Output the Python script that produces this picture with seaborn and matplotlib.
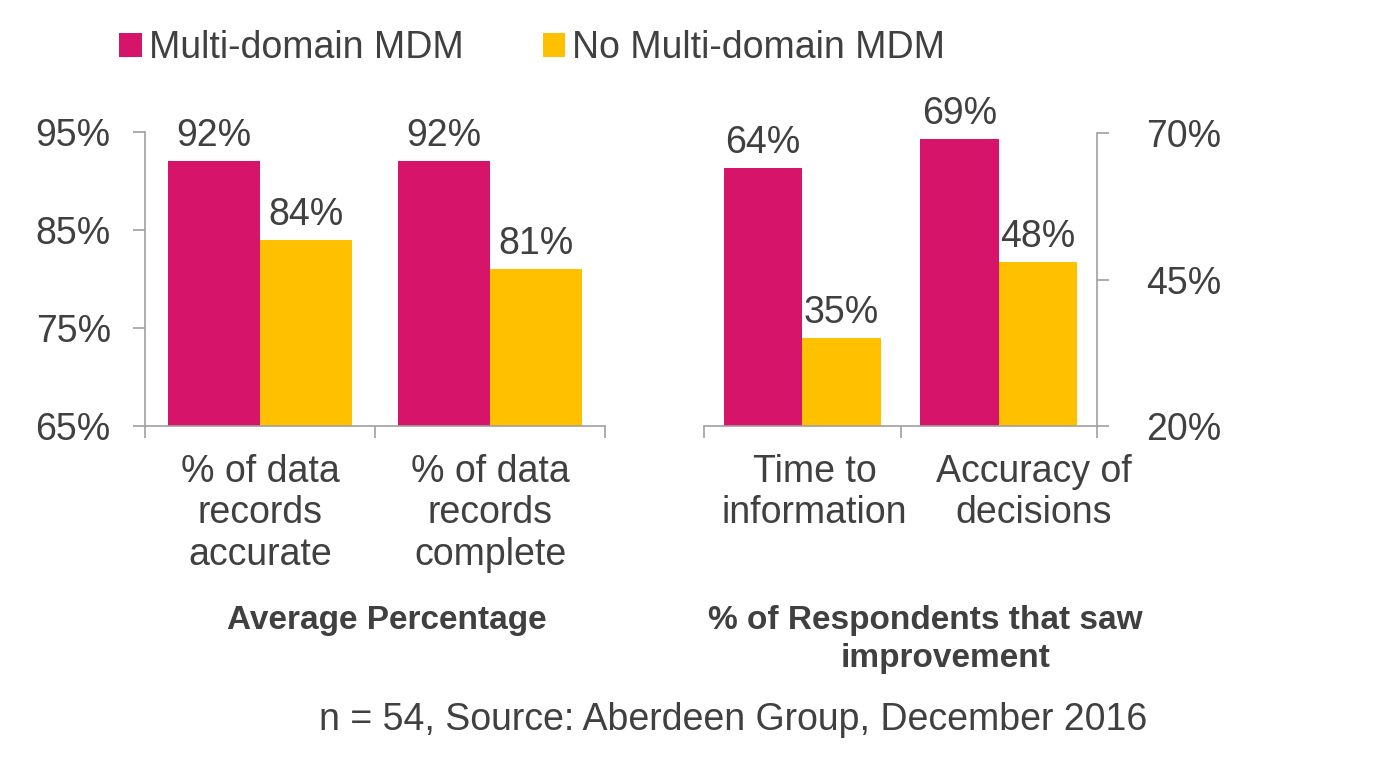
import matplotlib
matplotlib.use("Agg")
import matplotlib.pyplot as plt
import seaborn as sns
import pandas as pd

# ---- data ----
series = ["Multi-domain MDM", "No Multi-domain MDM"]
left_categories = ["% of data\nrecords\naccurate", "% of data\nrecords\ncomplete"]
left_multi = [92, 92]
left_no = [84, 81]
right_categories = ["Time to\ninformation", "Accuracy of\ndecisions"]
right_multi = [64, 69]
right_no = [35, 48]
left_ticks = [65, 75, 85, 95]
right_ticks = [20, 45, 70]
left_title = "Average Percentage"
right_title_lines = ["% of Respondents that saw", "improvement"]
source_text = "n = 54, Source: Aberdeen Group, December 2016"

colors = ["#D5146A", "#FFC000"]
text_color = "#404040"
axis_color = "#A0A0A0"

sns.set_theme(style="white")
plt.rcParams["font.family"] = ["Liberation Sans", "DejaVu Sans"]

W, H = 1393, 765
fig = plt.figure(figsize=(W / 100, H / 100), dpi=100)

def fx(px):
    return px / W

def fy(py):
    return 1 - py / H

ax_l = fig.add_axes([fx(145), fy(426), fx(605) - fx(145), fy(132) - fy(426)])
ax_r = fig.add_axes([fx(704), fy(426), fx(1097) - fx(704), fy(133) - fy(426)])

def make_df(cats, a, b):
    return pd.DataFrame({
        "cat": cats * 2,
        "series": [series[0]] * len(cats) + [series[1]] * len(cats),
        "value": list(a) + list(b),
    })

df_l = make_df(left_categories, left_multi, left_no)
df_r = make_df(right_categories, right_multi, right_no)

FS = 27
BFS = 24
tick_len = 12 * 72 / 100

for ax, df, cats, ticks, side, dxs in [
    (ax_l, df_l, left_categories, left_ticks, "left", [0, 0]),
    (ax_r, df_r, right_categories, right_ticks, "right", [9, 25]),
]:
    sns.barplot(data=df, x="cat", y="value", hue="series", hue_order=series,
                palette=colors, ax=ax, width=0.8, saturation=1, legend=True,
                errorbar=None, linewidth=0)
    ax.set_ylim(ticks[0], ticks[-1])
    ax.set_xlim(-0.5, len(cats) - 0.5)
    ax.set_yticks(ticks)
    ax.set_yticklabels([f"{t}%" for t in ticks])
    ax.set_xticks([-0.5 + i for i in range(len(cats) + 1)])
    ax.set_xticklabels([""] * (len(cats) + 1))
    ax.set_xlabel("")
    ax.set_ylabel("")
    for s in ["top", "left", "right", "bottom"]:
        ax.spines[s].set_visible(False)
    ax.spines["bottom"].set_visible(True)
    ax.spines[side].set_visible(True)
    for s in ["bottom", side]:
        ax.spines[s].set_color(axis_color)
        ax.spines[s].set_linewidth(1.2)
    if side == "right":
        ax.yaxis.tick_right()
        ax.tick_params(axis="y", pad=27)
    else:
        ax.tick_params(axis="y", pad=16)
    ax.tick_params(axis="both", direction="out", length=tick_len, width=1.2,
                   color=axis_color, labelsize=FS, labelcolor=text_color,
                   bottom=True, left=(side == "left"), right=(side == "right"))
    for c in ax.containers:
        ax.bar_label(c, labels=[f"{v:.0f}%" for v in c.datavalues],
                     fontsize=FS, color=text_color, padding=5)
    for i, cat in enumerate(cats):
        ax.annotate(cat, xy=(i, 0), xycoords=("data", "axes fraction"),
                    xytext=(dxs[i], -20), textcoords="offset points",
                    ha="center", va="top", fontsize=FS, color=text_color,
                    linespacing=1.2, multialignment="center")
    if ax.get_legend() is not None:
        handles, labels = ax.get_legend_handles_labels()
        ax.get_legend().remove()

fig.legend(handles, labels, loc="center left",
           bbox_to_anchor=(fx(119), fy(48)), frameon=False, fontsize=FS,
           ncol=2, handlelength=0.6, handleheight=0.6, handletextpad=0.2,
           columnspacing=2.1, borderpad=0, borderaxespad=0,
           labelcolor=text_color)

fig.text(fx(387), fy(621), left_title, ha="center", va="center",
         fontsize=BFS, fontweight="bold", color=text_color)
fig.text(fx(925), fy(620), right_title_lines[0], ha="center", va="center",
         fontsize=BFS, fontweight="bold", color=text_color)
fig.text(fx(946), fy(658), right_title_lines[1], ha="center", va="center",
         fontsize=BFS, fontweight="bold", color=text_color)
fig.text(fx(733), fy(720), source_text, ha="center", va="center",
         fontsize=FS, color=text_color)

fig.savefig("out.png", dpi=100, facecolor="white")
